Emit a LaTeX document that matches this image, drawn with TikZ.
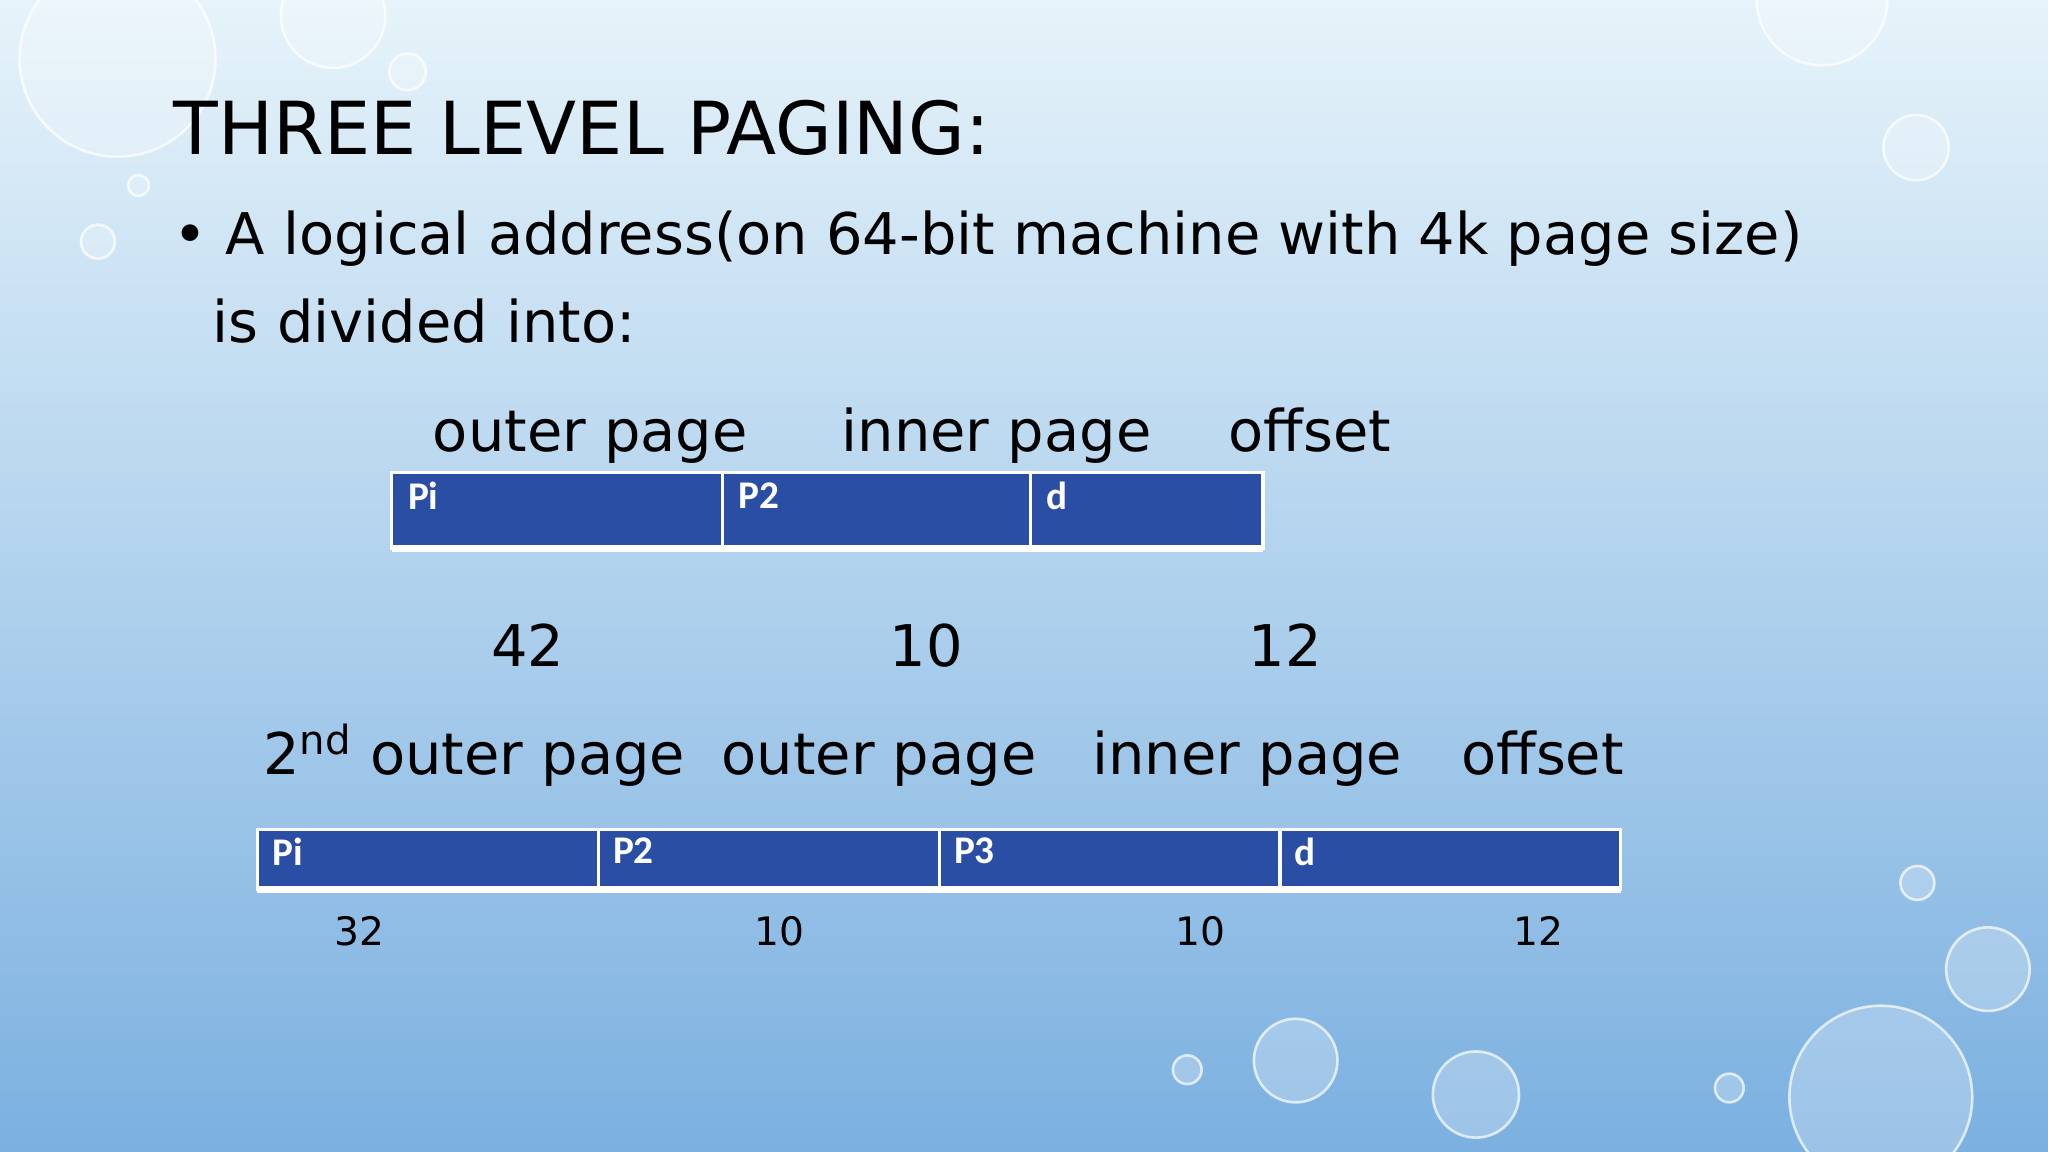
\documentclass[tikz,border=0pt]{standalone}
\usepackage{fontspec}
\setmainfont{DejaVu Sans}
\newfontfamily\boxfont{Carlito}
\begin{document}
\begin{tikzpicture}[x=0.5pt,y=-0.5pt,
  seg/.style={draw=white,line width=1.2pt,fill=segblue,minimum height=#1*0.5pt,inner sep=0pt,outer sep=0pt,anchor=north west},
  segtxt/.style={anchor=north west,text=white,font=\boxfont\bfseries\fontsize{15}{18}\selectfont,inner sep=0pt},
  lab/.style={font=\fontsize{22}{26}\selectfont,text=black,anchor=base},
  small/.style={font=\fontsize{15}{18}\selectfont,text=black},
  drop/.style={draw=white,line width=1pt,fill=white,fill opacity=0.25,draw opacity=0.7}]
\definecolor{segblue}{HTML}{2A4EA4}
\definecolor{topbg}{HTML}{E6F3FA}
\definecolor{botbg}{HTML}{7BB0E0}
\shade[top color=topbg,bottom color=botbg] (0,0) rectangle (1568,882);
\useasboundingbox (0,0) rectangle (1568,882);
% drops
\draw[drop] (90,45) circle (75);
\draw[drop] (255,12) circle (40);
\draw[drop] (312,55) circle (14);
\draw[drop] (106,142) circle (8);
\draw[drop] (75,185) circle (13);
\draw[drop] (1395,0) circle (50);
\draw[drop] (1467,113) circle (25);
\draw[drop] (1468,676) circle (13);
\draw[drop] (1522,742) circle (32);
\draw[drop] (1440,840) circle (70);
\draw[drop] (992,812) circle (32);
\draw[drop] (1130,838) circle (33);
\draw[drop] (909,819) circle (11);
\draw[drop] (1324,833) circle (11);
% title
\node[anchor=west,font=\fontsize{28}{34}\selectfont] (title) at (126,98) {THREE LEVEL PAGING:};
\node[anchor=west,font=\fontsize{22}{26}\selectfont] (b1) at (126,183) {• A logical address(on 64-bit machine with 4k page size)};
\node[anchor=west,font=\fontsize{22}{26}\selectfont] (b2) at (156,246) {is divided into:};
% row 1
\node[lab] (l1) at (452,346) {outer page};
\node[lab] (l2) at (763,346) {inner page};
\node[lab] (l3) at (1003,346) {offset};
\node[seg=58,minimum width=253*0.5pt] (a1) at (300,362) {};
\node[seg=58,minimum width=236*0.5pt] (a2) at (553,362) {};
\node[seg=58,minimum width=178*0.5pt] (a3) at (789,362) {};
\draw[white,line width=2.5pt] (a1.south west) -- (a3.south east);
\node[segtxt] at ([shift={(12,7)}]a1.north west) {Pi};
\node[segtxt] at ([shift={(12,7)}]a2.north west) {P2};
\node[segtxt] at ([shift={(12,7)}]a3.north west) {d};
\node[lab] (n1) at (404,510) {42};
\node[lab] (n2) at (709,510) {10};
\node[lab] (n3) at (984,510) {12};
% row 2
\node[lab] (m1) at (363,593) {2\textsuperscript{nd} outer page};
\node[lab] (m2) at (673,593) {outer page};
\node[lab] (m3) at (955,593) {inner page};
\node[lab] (m4) at (1181,593) {offset};
\node[seg=46,minimum width=261*0.5pt] (c1) at (197,635) {};
\node[seg=46,minimum width=261*0.5pt] (c2) at (458,635) {};
\node[seg=46,minimum width=261*0.5pt] (c3) at (719,635) {};
\node[seg=46,minimum width=261*0.5pt] (c4) at (980,635) {};
\draw[white,line width=2.5pt] (c1.south west) -- (c4.south east);
\node[segtxt] at ([shift={(11,6)}]c1.north west) {Pi};
\node[segtxt] at ([shift={(11,6)}]c2.north west) {P2};
\node[segtxt] at ([shift={(11,6)}]c3.north west) {P3};
\node[segtxt] at ([shift={(11,6)}]c4.north west) {d};
\node[small] (k1) at (275,713) {32};
\node[small] (k2) at (597,713) {10};
\node[small] (k3) at (919,713) {10};
\node[small] (k4) at (1178,713) {12};
\end{tikzpicture}
\end{document}
